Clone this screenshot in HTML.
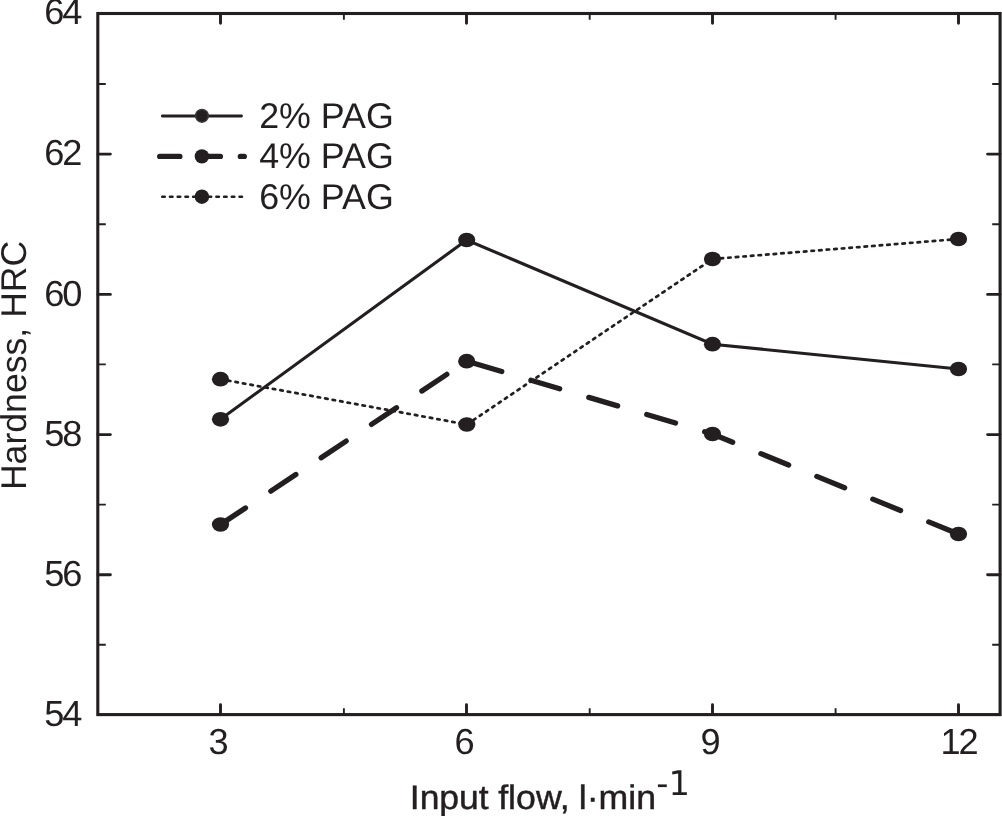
<!DOCTYPE html>
<html><head><meta charset="utf-8">
<style>
html,body{margin:0;padding:0;background:#fff;overflow:hidden}
svg{display:block}
text{font-family:"Liberation Sans",sans-serif;fill:#231f20;text-rendering:geometricPrecision}
</style></head><body>
<svg width="1002" height="816" viewBox="0 0 1002 816">
<rect width="1002" height="816" fill="#fff"/>
<g stroke="#231f20" fill="none">
<!-- frame -->
<rect x="97.8" y="13.5" width="902.3" height="701.1" stroke-width="3.1"/>
<!-- left ticks -->
<g stroke-width="2.9" stroke-linecap="round">
<path d="M98 154.1h12.4M98 294.4h12.4M98 434.6h12.4M98 574.8h12.4"/>
<path d="M1000 154.1h-12.4M1000 294.4h-12.4M1000 434.6h-12.4M1000 574.8h-12.4"/>
<path d="M220.5 714v-9.3M466.5 714v-9.3M712.5 714v-9.3M958.5 714v-9.3"/>
<path d="M220.5 14v9.3M466.5 14v9.3M712.5 14v9.3M958.5 14v9.3"/>
</g>
<g stroke-width="1.9">
<path d="M98 84h7.8M98 224.2h7.8M98 364.4h7.8M98 504.6h7.8M98 644.8h7.8"/>
<path d="M1000 84h-7.8M1000 224.2h-7.8M1000 364.4h-7.8M1000 504.6h-7.8M1000 644.8h-7.8"/>
<path d="M343.9 714v-5.8M589.7 714v-5.8M835.6 714v-5.8"/>
<path d="M343.9 14v5.8M589.7 14v5.8M835.6 14v5.8"/>
</g>
<!-- series -->
<polyline points="220.5,419.3 466.7,240 712.5,344.2 958.5,369" stroke-width="3.1"/>
<polyline points="220.5,524.5 466.7,361.2 712.5,434 958.5,534" stroke-width="5.3" stroke-linecap="round" stroke-dasharray="30 30.4"/>
<polyline points="220.5,379.2 466.8,424.5 712.5,259 958.5,239" stroke-width="2.7" stroke-linecap="round" stroke-dasharray="2.5 5.1"/>
<!-- legend lines -->
<path d="M162.3 116H241.5" stroke-width="2.8" stroke-linecap="round"/>
<path d="M159.7 156.4H179.9M202 156.4H220.4M240.3 156.4H244.3" stroke-width="5.3" stroke-linecap="round"/>
<path d="M162.2 196.7H242" stroke-width="2.5" stroke-linecap="round" stroke-dasharray="2.6 5.13"/>
</g>
<g fill="#231f20">
<ellipse cx="220.5" cy="419.3" rx="8.6" ry="7.35"/><ellipse cx="466.7" cy="240" rx="8.6" ry="7.35"/><ellipse cx="712.5" cy="344.2" rx="8.6" ry="7.35"/><ellipse cx="958.5" cy="369" rx="8.6" ry="7.35"/>
<ellipse cx="220.5" cy="524.5" rx="8.6" ry="7.35"/><ellipse cx="466.7" cy="361.2" rx="8.6" ry="7.35"/><ellipse cx="712.5" cy="434" rx="8.6" ry="7.35"/><ellipse cx="958.5" cy="534" rx="8.6" ry="7.35"/>
<ellipse cx="220.5" cy="379.2" rx="8.6" ry="7.35"/><ellipse cx="466.8" cy="424.5" rx="8.6" ry="7.35"/><ellipse cx="712.5" cy="259" rx="8.6" ry="7.35"/><ellipse cx="958.5" cy="239" rx="8.6" ry="7.35"/>
<circle cx="201.95" cy="115.8" r="6.4" stroke="#3d393a" stroke-width="1.5"/><ellipse cx="201.9" cy="156.4" rx="7.2" ry="7.2"/><ellipse cx="201.9" cy="196.7" rx="7.2" ry="7.2"/>
</g>
<g font-size="35.8">
<g letter-spacing="-2.1" font-size="36.2">
<text x="44.3" y="24.4">64</text><text x="44.3" y="165.3">62</text><text x="44.3" y="305.7">60</text><text x="44.3" y="445.9">58</text><text x="44.3" y="586.1">56</text><text x="44.3" y="726.3">54</text>
<text x="208.5" y="753.8">3</text><text x="454.5" y="753.8">6</text><text x="700.5" y="753.8">9</text><text x="940.6" y="753.8">12</text>
</g>
<text x="259.2" y="127.8">2% PAG</text><text x="259.2" y="167.9">4% PAG</text><text x="259.2" y="208.8">6% PAG</text>
<g font-size="34" stroke="#231f20" stroke-width="0.45" style="font-family:'DejaVu Sans Condensed','DejaVu Sans',sans-serif;font-stretch:condensed;font-variant-ligatures:none">
<text id="w1" transform="translate(409.8 809.1) scale(1.043 1)">Input</text>
<text id="w2" transform="translate(498.2 809.1) scale(1.05 1)">flow,</text>
<text id="w3" transform="translate(578.7 809.1) scale(1.05 1)">l·min</text>
</g>
<text x="656.2" y="794.7" font-size="33.8" style="font-family:'DejaVu Sans',sans-serif">-1</text>
<text transform="translate(26 490.1) rotate(-90) scale(0.995 1)">Hardness, HRC</text>
</g>
</svg>
</body></html>
